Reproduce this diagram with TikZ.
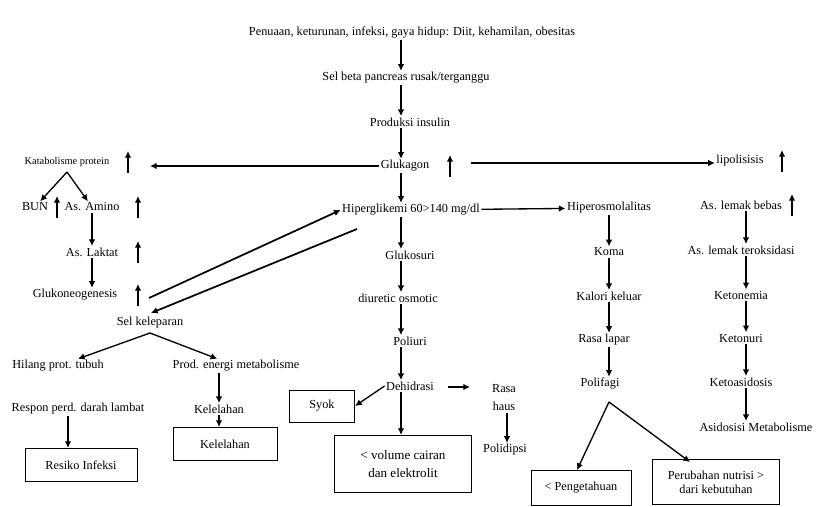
\documentclass[tikz,border=0pt]{standalone}
\usepackage{fontspec}
\setmainfont{Liberation Serif}
\usetikzlibrary{arrows.meta}
\begin{document}
\begin{tikzpicture}[x=0.75pt,y=-0.75pt,
  t/.style={font=\fontsize{9.2}{10.5}\selectfont,inner sep=1pt,align=center},
  bx/.style={t,draw,line width=0.6pt,minimum height=26pt,inner sep=4pt},
  ar/.style={-{Latex[length=5pt,width=5pt]},line width=1.3pt},
  up/.style={-{Latex[length=5pt,width=5pt]},line width=1.3pt}]
\useasboundingbox (0,0) rectangle (822,507);
\node[t] (t1) at (412,33) {Penuaan, keturunan, infeksi, gaya hidup: Diit, kehamilan, obesitas};
\node[t] (t2) at (406,78) {Sel beta pancreas rusak/terganggu};
\node[t] (t3) at (410,122) {Produksi insulin};
\node[t] (glu) at (405,166) {Glukagon};
\node[t,font=\fontsize{7.8}{8}\selectfont] (kat) at (67,162) {Katabolisme protein};
\node[t] (lip) at (740,161) {lipolisisis};
\node[t] (bun) at (35,207) {BUN};
\node[t] (amino) at (92,207) {As. Amino};
\node[t] (laktat) at (92,252) {As. Laktat};
\node[t] (gneo) at (75,295) {Glukoneogenesis};
\node[t] (hiper) at (411,210) {Hiperglikemi 60>140 mg/dl};
\node[t] (hosm) at (609,208) {Hiperosmolalitas};
\node[t] (lemak) at (741,205) {As. lemak bebas};
\node[t] (teroks) at (741,250) {As. lemak teroksidasi};
\node[t] (ktnm) at (741,295) {Ketonemia};
\node[t] (ktnu) at (741,338) {Ketonuri};
\node[t] (ktas) at (741,382) {Ketoasidosis};
\node[t] (asid) at (756,427) {Asidosisi Metabolisme};
\node[t] (gsuri) at (410,255) {Glukosuri};
\node[t] (diur) at (398,298) {diuretic osmotic};
\node[t] (poli) at (410,341) {Poliuri};
\node[t] (dehi) at (410,386) {Dehidrasi};
\node[t] (haus) at (504,398) {Rasa\\[3pt]haus};
\node[t] (pdip) at (505,450) {Polidipsi};
\node[bx,minimum width=49pt,minimum height=24pt] (syok) at (322,406) {Syok};
\node[bx,minimum width=103pt,minimum height=43pt,font=\fontsize{9.8}{14}\selectfont] (vol) at (403,464) {< volume cairan\\dan elektrolit};
\node[t] (koma) at (609,252) {Koma};
\node[t] (kal) at (609,296) {Kalori keluar};
\node[t] (lapar) at (604,340) {Rasa lapar};
\node[t] (fagi) at (600,384) {Polifagi};
\node[bx,minimum width=75pt] (peng) at (581,488) {< Pengetahuan};
\node[bx,minimum width=95pt,minimum height=34pt] (nutr) at (716,482) {Perubahan nutrisi >\\dari kebutuhan};
\node[t] (selk) at (150,323) {Sel keleparan};
\node[t] (hil) at (58,366) {Hilang prot. tubuh};
\node[t] (resp) at (78,409) {Respon perd. darah lambat};
\node[bx,minimum width=84pt,minimum height=25pt] (res) at (81,465) {Resiko Infeksi};
\node[t] (prod) at (236,366) {Prod. energi metabolisme};
\node[t] (kel1) at (219,409) {Kelelahan};
\node[bx,minimum width=78pt,minimum height=25pt] (kel2) at (225,444) {Kelelahan};
% vertical chain (x = 401)
\foreach \a/\b in {t1/t2,t2/t3,t3/glu,glu/hiper,hiper/gsuri,gsuri/diur,diur/poli,poli/dehi,dehi/vol}
  \draw[ar] (\a.south -| 401,0) -- (\b.north -| 401,0);
\draw[ar] (glu.west) -- (150,166);
\draw[ar] (471,163) -- (lip.west |- 0,163);
\coordinate (kf) at (67,172);
\draw[ar,line width=1pt] (kf) -- (bun); \draw[ar,line width=1pt] (kf) -- (amino);
\foreach \a/\b in {amino/laktat,laktat/gneo}
  \draw[ar] (\a.south -| 92,0) -- (\b.north -| 92,0);
\draw[ar] (149,298) -- (hiper.west);
\draw[ar] (357,229) -- (151,313);
\draw[ar,line width=1pt] (hiper) -- (hosm);
\foreach \a/\b in {hosm/koma,koma/kal,kal/lapar,lapar/fagi}
  \draw[ar] (\a.south -| 609,0) -- (\b.north -| 609,0);
\coordinate (ff) at (609,402);
\draw[ar,line width=1pt] (ff) -- (577,470);
\draw[ar,line width=1pt] (ff) -- (690,462);
\foreach \a/\b in {lemak/teroks,teroks/ktnm,ktnm/ktnu,ktnu/ktas,ktas/asid}
  \draw[ar] (\a.south -| 746,0) -- (\b.north -| 746,0);
\coordinate (sf) at (150,333);
\draw[ar,line width=1pt] (sf) -- (hil); \draw[ar,line width=1pt] (sf) -- (prod);
\draw[ar] (resp.south -| 68,0) -- (res.north -| 68,0);
\draw[ar] (prod.south -| 219,0) -- (kel1.north -| 219,0);
\draw[ar] (kel1.south -| 219,0) -- (kel2.north -| 219,0);
\draw[ar,line width=1pt] (dehi.west) -- (syok.east);
\draw[ar] (448,387) -- (470,387);
\draw[ar] (haus.south -| 507,0) -- (pdip.north -| 507,0);
% up arrows
\foreach \x/\y in {128/162,450/166,782/161,57/207,138/207,138/252,138/295,792/205}
  \draw[up] (\x,\y+11) -- (\x,\y-11);
\end{tikzpicture}
\end{document}
